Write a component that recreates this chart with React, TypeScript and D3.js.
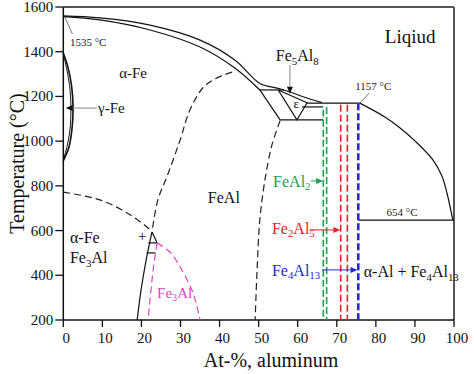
import React from 'react';
import * as d3 from 'd3';

type P = [number, number];

const xTicks = [0, 10, 20, 30, 40, 50, 60, 70, 80, 90, 100];
const yTicks = [200, 400, 600, 800, 1000, 1200, 1400, 1600];

const liquidusUpper: P[] = [[0, 1560], [9.4, 1551], [22.2, 1519], [35, 1452], [43.9, 1363], [50.3, 1258], [55, 1236], [58, 1220], [62, 1195], [66.2, 1172]];
const solidusAlpha: P[] = [[0, 1557], [9.4, 1542], [22.2, 1497], [35, 1421], [43.9, 1327], [50.3, 1229]];
const liquidusAl: P[] = [[75.9, 1170], [82.3, 1108], [86.2, 1059], [90, 1001], [94.6, 916], [96.9, 844], [98.2, 768], [99.7, 647]];
const peritectic: P[] = [[50.3, 1229], [56.5, 1229]];
const epsilon: P[] = [[55, 1229], [62.4, 1172], [59.8, 1095], [55, 1229]];
const line1157: P[] = [[62.4, 1170], [75.9, 1170]];
const line1153: P[] = [[61.1, 1153], [66.5, 1153]];
const eutectoid: P[] = [[55.5, 1095], [66.5, 1095]];
const feAlRightSolid: P[] = [[50.3, 1229], [55.5, 1095]];
const feAlRightDashed: P[] = [[55.5, 1092], [53.4, 983], [51.6, 826], [50.3, 647], [49.6, 424], [49.1, 200]];
const b2Dashed: P[] = [[43.2, 1309], [38.8, 1278], [35.8, 1240], [32.4, 1139], [29.9, 1005], [26.5, 840], [24.2, 737], [22.7, 594]];
const d03Dashed: P[] = [[0, 772], [9.4, 737], [16.3, 679], [21.4, 616], [22.7, 594]];
const alphaSolid: P[] = [[22.7, 594], [21.2, 468], [19.9, 334], [18.9, 200]];
const smallDiag: P[] = [[22.7, 594], [24.0, 545]];
const smallTop: P[] = [[21.8, 545], [24.0, 545]];
const smallBottom: P[] = [[21.3, 500], [23.6, 500]];
const magentaLeft: P[] = [[24.0, 545], [23.0, 424], [21.7, 200]];
const magentaRight: P[] = [[24.0, 545], [27.3, 504], [29.9, 437], [33.2, 321], [35.0, 200]];
const gammaOuter: P[] = [[0, 1394], [1.2, 1330], [2.1, 1250], [2.5, 1150], [2.2, 1050], [1.4, 970], [0, 912]];
const gammaInner: P[] = [[0, 1392], [0.9, 1320], [1.6, 1250], [1.95, 1150], [1.7, 1050], [1.0, 980], [0, 915]];
const line654: P[] = [[75.5, 647], [100, 647]];

const greenLines: P[][] = [[[66.55, 1140], [66.55, 200]], [[67.4, 1153], [67.4, 200]]];
const redLines: P[][] = [[[71.0, 1163], [71.0, 200]], [[72.7, 1163], [72.7, 200]]];
const blueLines: P[][] = [[[75.5, 1170], [75.5, 200]]];

const GREEN = '#1e9e4e';
const RED = '#e8202a';
const BLUE = '#2828c8';
const MAGENTA = '#de45c0';

const xS = d3.scaleLinear().domain([0, 100]).range([63.3, 454]);
const yS = d3.scaleLinear().domain([200, 1600]).range([320, 7]);

const line = d3.line<P>().x(d => xS(d[0])).y(d => yS(d[1]));
const smooth = d3.line<P>().x(d => xS(d[0])).y(d => yS(d[1])).curve(d3.curveCatmullRom.alpha(0.5));

const FONT = 'Liberation Serif';

function Chem({ x, y, text, size, fill = '#111', anchor = 'start' }: { x: number; y: number; text: string; size: number; fill?: string; anchor?: string }) {
  const parts = text.split(/(_\d+)/).filter(s => s.length);
  let sub = false;
  return (
    <text x={x} y={y} fontSize={size} fill={fill} fontFamily={FONT} textAnchor={anchor as any}>
      {parts.map((p, i) => {
        if (p.startsWith('_')) {
          const el = <tspan key={i} fontSize={size * 0.68} dy={sub ? 0 : size * 0.22}>{p.slice(1)}</tspan>;
          sub = true;
          return el;
        }
        const el = <tspan key={i} dy={sub ? -size * 0.22 : 0}>{p}</tspan>;
        sub = false;
        return el;
      })}
    </text>
  );
}

function Arrow({ from, to, color, lineColor }: { from: P; to: P; color: string; lineColor?: string }) {
  const x1 = xS(from[0]), y1 = yS(from[1]), x2 = xS(to[0]), y2 = yS(to[1]);
  const ang = Math.atan2(y2 - y1, x2 - x1);
  const L = 7, Wd = 3;
  const bx = x2 - L * Math.cos(ang), by = y2 - L * Math.sin(ang);
  const px = -Math.sin(ang) * Wd, py = Math.cos(ang) * Wd;
  return (
    <g>
      <line x1={x1} y1={y1} x2={bx} y2={by} stroke={lineColor || color} strokeWidth={1} />
      <path d={`M${x2},${y2}L${bx + px},${by + py}L${bx - px},${by - py}Z`} fill={color} />
    </g>
  );
}

export default function App() {
  const solid = { fill: 'none', stroke: '#111', strokeWidth: 1.2 };
  const dashed = { fill: 'none', stroke: '#222', strokeWidth: 1.2, strokeDasharray: '7,4' };
  const T = (props: any) => <text fontFamily={FONT} {...props} />;
  return (
    <svg width={474} height={374} style={{ position: 'absolute', left: 0, top: 0, background: '#fff' }}>
      <rect width={474} height={374} fill="#fff" />
      <line x1={xS(0)} y1={yS(1600)} x2={xS(100)} y2={yS(1600)} stroke="#555" strokeWidth={2} />
      <line x1={xS(100)} y1={yS(1600)} x2={xS(100)} y2={yS(200)} stroke="#555" strokeWidth={2} />
      <line x1={xS(0)} y1={yS(1600)} x2={xS(0)} y2={yS(200)} stroke="#111" strokeWidth={1.5} />
      <line x1={xS(0)} y1={yS(200)} x2={xS(100)} y2={yS(200)} stroke="#111" strokeWidth={1.5} />
      {yTicks.map(t => (
        <g key={'y' + t}>
          <line x1={xS(0) - 8} x2={xS(0)} y1={yS(t)} y2={yS(t)} stroke="#111" strokeWidth={1.3} />
          <T x={xS(0) - 10} y={yS(t) + 5} textAnchor="end" fontSize={15} fill="#111">{t}</T>
        </g>
      ))}
      {xTicks.map(t => (
        <g key={'x' + t}>
          <line x1={xS(t)} x2={xS(t)} y1={yS(200)} y2={yS(200) + 7} stroke="#111" strokeWidth={1.3} />
          <T x={xS(t) + 3} y={yS(200) + 23} textAnchor="middle" fontSize={15} fill="#111">{t}</T>
        </g>
      ))}
      <T x={271} y={367} textAnchor="middle" fontSize={20} fill="#111">At-%, aluminum</T>
      <T transform={`translate(24,${yS(900)}) rotate(-90)`} textAnchor="middle" fontSize={20} fill="#111">Temperature (°C)</T>

      <path d={smooth(liquidusUpper)!} {...solid} />
      <path d={smooth(solidusAlpha)!} {...solid} />
      <path d={smooth(liquidusAl)!} {...solid} />
      <path d={line(peritectic)!} {...solid} />
      <path d={line(epsilon)!} {...solid} />
      <path d={line(line1157)!} {...solid} />
      <path d={line(line1153)!} {...solid} />
      <path d={line(eutectoid)!} {...solid} />
      <path d={line(feAlRightSolid)!} {...solid} />
      <path d={smooth(alphaSolid)!} {...solid} />
      <path d={line(smallDiag)!} {...solid} />
      <path d={line(smallTop)!} {...solid} />
      <path d={line(smallBottom)!} {...solid} />
      <path d={smooth(gammaOuter)!} {...solid} strokeWidth={1.6} />
      <path d={smooth(gammaInner)!} {...solid} strokeWidth={1} />
      <path d={line(line654)!} {...solid} />

      <path d={smooth(feAlRightDashed)!} {...dashed} />
      <path d={smooth(b2Dashed)!} {...dashed} />
      <path d={smooth(d03Dashed)!} {...dashed} />
      <path d={smooth(magentaLeft)!} fill="none" stroke={MAGENTA} strokeWidth={1.2} strokeDasharray="7,4" />
      <path d={smooth(magentaRight)!} fill="none" stroke={MAGENTA} strokeWidth={1.2} strokeDasharray="7,4" />
      {greenLines.map((l, i) => <path key={'g' + i} d={line(l)!} fill="none" stroke={GREEN} strokeWidth={1.6} strokeDasharray="7,3" />)}
      {redLines.map((l, i) => <path key={'r' + i} d={line(l)!} fill="none" stroke={RED} strokeWidth={1.6} strokeDasharray="7,3" />)}
      {blueLines.map((l, i) => <path key={'b' + i} d={line(l)!} fill="none" stroke={BLUE} strokeWidth={2.6} strokeDasharray="7,3" />)}

      <line x1={xS(0.4)} y1={yS(1555)} x2={xS(2.3)} y2={yS(1480)} stroke="#666" strokeWidth={0.9} />
      <line x1={xS(75.9)} y1={yS(1170)} x2={xS(78.3)} y2={yS(1215)} stroke="#666" strokeWidth={0.9} />
      <Arrow from={[8.6, 1148]} to={[0.6, 1148]} color="#111" lineColor="#888" />
      <Arrow from={[58, 1340]} to={[58, 1212]} color="#111" lineColor="#888" />
      <Arrow from={[63.4, 822]} to={[66.5, 822]} color={GREEN} />
      <Arrow from={[63.1, 603]} to={[70.9, 603]} color={RED} />
      <Arrow from={[66.2, 424]} to={[75.3, 424]} color={BLUE} />

      <T x={xS(82.3)} y={yS(1439)} fontSize={19} fill="#111">Liqiud</T>
      <T x={xS(14.3)} y={yS(1282)} fontSize={15} fill="#111">α-Fe</T>
      <T x={xS(8.9)} y={yS(1126)} fontSize={15} fill="#111">γ-Fe</T>
      <T x={xS(1.7)} y={yS(1426)} fontSize={11} fill="#222">1535 °C</T>
      <Chem x={xS(54.4)} y={yS(1358)} text="Fe_5Al_8" size={16} />
      <T x={xS(59.6)} y={yS(1148)} fontSize={13} fill="#111" textAnchor="middle">ε</T>
      <T x={xS(74.7)} y={yS(1229)} fontSize={11} fill="#222">1157 °C</T>
      <T x={xS(37.0)} y={yS(723)} fontSize={16} fill="#111">FeAl</T>
      <Chem x={xS(53.7)} y={yS(795)} text="FeAl_2" size={16} fill={GREEN} />
      <Chem x={xS(53.4)} y={yS(585)} text="Fe_2Al_5" size={16} fill={RED} />
      <Chem x={xS(53.4)} y={yS(397)} text="Fe_4Al_13" size={16} fill={BLUE} />
      <Chem x={xS(76.9)} y={yS(392)} text="α-Al + Fe_4Al_13" size={16} />
      <T x={xS(86.7)} y={yS(665)} fontSize={11} fill="#222" textAnchor="middle">654 °C</T>
      <T x={xS(1.7)} y={yS(544)} fontSize={16} fill="#111">α-Fe</T>
      <Chem x={xS(1.7)} y={yS(455)} text="Fe_3Al" size={16} />
      <Chem x={xS(24.0)} y={yS(298)} text="Fe_3Al" size={15} fill={MAGENTA} />
      <T x={xS(20.2)} y={yS(552)} fontSize={15} fill="#111" textAnchor="middle">+</T>
    </svg>
  );
}
